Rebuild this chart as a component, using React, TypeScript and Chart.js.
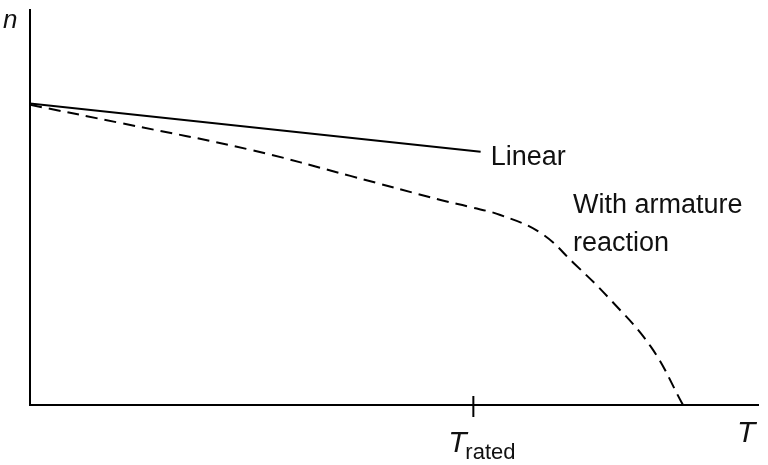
import React, { useEffect, useRef } from "react";
import { Chart, registerables } from "chart.js";

Chart.register(...registerables);

// Data (arbitrary units: torque T on x, speed n on y)
const linearT = [0, 61.9];
const linearN = [76.3, 64.1];
const armT = [0, 12.4, 30.3, 44.0, 56.4, 60.5, 64.6, 70.2, 74.7, 79.4, 85.3, 89.7];
const armN = [76.0, 71.4, 64.6, 58.0, 51.9, 50.1, 48.1, 43.5, 35.9, 27.3, 14.7, 0];
const tRated = 60.9;
const xMax = 100;
const yMax = 100;

const FONT = "'Liberation Sans', Arial, Helvetica, sans-serif";

const labelsPlugin = {
  id: "labelsPlugin",
  afterDraw(chart: any) {
    const { ctx, scales } = chart;
    const xs = scales.x;
    const ys = scales.y;
    const x0 = xs.getPixelForValue(0);
    const y0 = ys.getPixelForValue(0);
    const xr = xs.getPixelForValue(tRated);
    ctx.save();
    ctx.strokeStyle = "#000";
    ctx.lineWidth = 2;
    ctx.beginPath();
    ctx.moveTo(xr, y0 - 9);
    ctx.lineTo(xr, y0 + 12);
    ctx.stroke();

    ctx.fillStyle = "#111";
    ctx.textBaseline = "alphabetic";
    ctx.textAlign = "left";
    ctx.font = `italic 26px ${FONT}`;
    ctx.fillText("n", x0 - 27, 28);
    ctx.font = `italic 30px ${FONT}`;
    ctx.fillText("T", 737, 442);
    ctx.fillText("T", xr - 25, 452);
    ctx.font = `22px ${FONT}`;
    ctx.fillText("rated", xr - 8, 459);

    ctx.font = `27px ${FONT}`;
    const lx = xs.getPixelForValue(linearT[1]);
    const ly = ys.getPixelForValue(linearN[1]);
    ctx.fillText("Linear", lx + 10, ly + 13);
    ctx.fillText("With armature", 573, 213);
    ctx.fillText("reaction", 573, 251);
    ctx.restore();
  },
};

export default function App() {
  const ref = useRef<HTMLCanvasElement>(null);
  useEffect(() => {
    if (!ref.current) return;
    const chart = new Chart(ref.current, {
      type: "scatter",
      data: {
        datasets: [
          {
            label: "Linear",
            data: linearT.map((t, i) => ({ x: t, y: linearN[i] })),
            showLine: true,
            borderColor: "#000",
            borderWidth: 2,
            pointRadius: 0,
          },
          {
            label: "With armature reaction",
            data: armT.map((t, i) => ({ x: t, y: armN[i] })),
            showLine: true,
            borderColor: "#000",
            borderWidth: 2,
            borderDash: [12, 7],
            pointRadius: 0,
            tension: 0.4,
          },
        ],
      },
      options: {
        responsive: false,
        animation: false,
        layout: { padding: { left: 22, right: 10, top: 10, bottom: 52 } },
        plugins: { legend: { display: false }, tooltip: { enabled: false } },
        scales: {
          x: {
            type: "linear",
            min: 0,
            max: xMax,
            grid: { display: false },
            ticks: { display: false },
            border: { display: true, color: "#000", width: 2 },
          },
          y: {
            type: "linear",
            min: 0,
            max: yMax,
            grid: { display: false },
            ticks: { display: false },
            border: { display: true, color: "#000", width: 2 },
          },
        },
      },
      plugins: [labelsPlugin],
    } as any);
    return () => chart.destroy();
  }, []);
  return (
    <div style={{ position: "fixed", left: 0, top: 0, width: 768, height: 465, background: "#fff" }}>
      <canvas ref={ref} width={768} height={465} />
    </div>
  );
}
